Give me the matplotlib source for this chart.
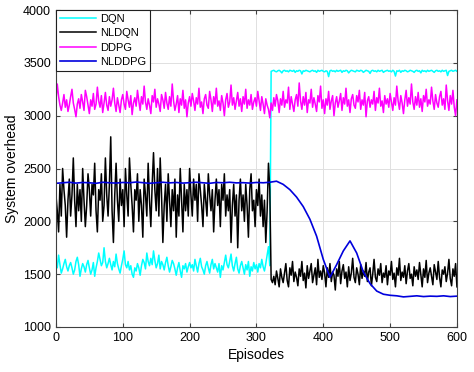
import numpy as np
import matplotlib
matplotlib.use("Agg")
import matplotlib.pyplot as plt

plt.rcParams['font.family'] = ['Liberation Sans', 'DejaVu Sans']

# episodes: noisy series every 2 episodes, smooth NLDDPG every 10
ep2 = list(range(0, 601, 2))
ep10 = list(range(0, 601, 10))

dqn = [
    1620, 1560, 1680, 1590, 1510, 1550, 1600, 1640, 1570, 1530,
    1580, 1610, 1560, 1500, 1540, 1620, 1660, 1590, 1480, 1550,
    1600, 1570, 1520, 1590, 1630, 1560, 1500, 1540, 1610, 1480,
    1560, 1620, 1700, 1640, 1580, 1610, 1750, 1620, 1560, 1600,
    1650, 1590, 1540, 1620, 1570, 1690, 1600, 1550, 1510, 1580,
    1640, 1720, 1590, 1560, 1620, 1540, 1580, 1500, 1470, 1560,
    1530, 1600, 1560, 1490, 1580, 1640, 1610, 1550, 1700, 1620,
    1580, 1650, 1590, 1720, 1630, 1560, 1600, 1680, 1550, 1620,
    1590, 1540, 1610, 1660, 1580, 1520, 1570, 1630, 1600, 1550,
    1490, 1560, 1610, 1530, 1470, 1580, 1550, 1600, 1520, 1570,
    1610, 1560, 1590, 1530, 1640, 1580, 1520, 1600, 1650, 1570,
    1540, 1500, 1580, 1620, 1560, 1510, 1590, 1640, 1550, 1600,
    1560, 1520, 1600, 1470, 1580, 1540, 1610, 1680, 1590, 1560,
    1620, 1690, 1580, 1530, 1600, 1660, 1550, 1510, 1580, 1620,
    1560, 1500, 1590, 1540, 1620, 1480, 1570, 1530, 1610, 1550,
    1590, 1520, 1600, 1560, 1640, 1570, 1530, 1600, 1680, 1760,
    1580,
    3420, 3425, 3430, 3420, 3415, 3425, 3430, 3420, 3405, 3425,
    3430, 3420, 3425, 3415, 3430, 3425, 3420, 3430, 3410, 3425,
    3420, 3430, 3425, 3395, 3425, 3420, 3430, 3425, 3420, 3415,
    3425, 3430, 3420, 3425, 3410, 3430, 3420, 3425, 3430, 3420,
    3415, 3425, 3420, 3370, 3425, 3430, 3420, 3425, 3415, 3430,
    3420, 3425, 3430, 3410, 3425, 3420, 3430, 3425, 3405, 3420,
    3430, 3425, 3420, 3415, 3430, 3425, 3420, 3430, 3425, 3410,
    3420, 3430, 3425, 3420, 3400, 3425, 3430, 3420, 3425, 3415,
    3430, 3420, 3425, 3430, 3410, 3420, 3425, 3430, 3420, 3425,
    3415, 3430, 3420, 3375, 3425, 3420, 3430, 3410, 3425, 3420,
    3430, 3425, 3415, 3420, 3430, 3425, 3420, 3410, 3425, 3430,
    3420, 3425, 3405, 3430, 3420, 3425, 3415, 3430, 3420, 3425,
    3430, 3420, 3410, 3425, 3430, 3420, 3425, 3415, 3430, 3420,
    3425, 3430, 3380, 3420, 3425, 3430, 3420, 3425, 3430, 3420,
]

nldqn = [
    2250, 2100, 1900, 2350, 2050, 2500, 2300, 2150, 1850, 2200,
    2400, 2050, 2250, 2600, 2200, 1950, 2350, 2100, 2300, 2000,
    2500, 2200, 1950, 2150, 2450, 2300, 2050, 2350, 2250, 2550,
    2100, 1900, 2300, 2200, 2450, 2000, 2150, 2600, 2250, 2050,
    2350, 2800, 2100, 1800, 2250, 2550, 2200, 2000, 2400, 2150,
    2300, 1950, 2500, 2250, 2050, 2600, 2350, 2150, 1900, 2300,
    2200, 2450, 2000, 2300, 2150, 1850, 2400, 2250, 2050, 2550,
    2200, 1950, 2350, 2650, 2300, 2100, 2500, 2050, 2600, 2250,
    1800, 2150, 2350, 2000, 2450, 2200, 1950, 2300, 2100, 2400,
    1850, 2250, 2050, 2500, 2200, 1900, 2350, 2100, 2300, 2050,
    2500, 2250, 2050, 2400, 2200, 2350, 2000, 2450, 2300, 2150,
    1950, 2350, 2200, 2050, 2450, 2250, 2100, 2300, 1900, 2200,
    2400, 2150, 2300, 1950, 2350, 2200, 2450, 2050, 2250, 2100,
    2300, 1800, 2150, 2350, 2050, 2250, 1750, 2200, 2400, 2100,
    2250, 2000, 2350, 2150, 1850, 2300, 2450, 2100, 2200, 1950,
    2300, 2150, 2400, 2050, 2250, 1950, 2200, 1800, 2100, 2550,
    2300,
    1450, 1420, 1480, 1400, 1530, 1460, 1380, 1550, 1470, 1420,
    1510, 1600, 1440, 1380, 1560, 1490, 1620, 1430, 1520, 1470,
    1390, 1550, 1480, 1620, 1440, 1510, 1370, 1580, 1460, 1530,
    1600, 1420, 1490, 1560, 1400, 1640, 1470, 1530, 1450, 1580,
    1510, 1380, 1560, 1470, 1600, 1430, 1520, 1490, 1350, 1550,
    1480, 1620, 1410, 1530, 1590, 1460, 1520, 1380, 1570, 1440,
    1510, 1650, 1470, 1420, 1560, 1500, 1400, 1590, 1460, 1530,
    1480, 1610, 1430, 1520, 1560, 1390, 1500, 1640, 1470, 1430,
    1550, 1490, 1600, 1420, 1510, 1470, 1580, 1400, 1530, 1490,
    1620, 1450, 1510, 1380, 1560, 1490, 1650, 1440, 1520, 1470,
    1580, 1410, 1530, 1600, 1460, 1500, 1390, 1570, 1480, 1540,
    1450, 1610, 1490, 1380, 1550, 1470, 1630, 1420, 1510, 1560,
    1480, 1400, 1590, 1520, 1450, 1620, 1470, 1380, 1540, 1500,
    1570, 1430, 1510, 1640, 1460, 1390, 1550, 1480, 1600, 1380,
]

ddpg = [
    3150, 3300, 3180, 3100, 3050, 3120, 3200, 3080, 3150, 3040,
    3100, 3180, 3250, 3120, 3060, 2990, 3110, 3160, 3070, 3200,
    3130, 3050, 3240, 3180, 3100, 3020, 3150, 3090, 3210, 3060,
    3110, 3270, 3140, 3080, 3190, 3030, 3120, 3220, 3100, 3050,
    3180, 3090, 3150, 3260, 3120, 3040, 3170, 3100, 3030, 3150,
    3200, 3110, 3060, 3230, 3150, 3080, 3190, 3010, 3120, 3170,
    3090, 3240, 3140, 3050, 3180, 3110, 3280, 3130, 3060, 3160,
    3100, 3020, 3190, 3130, 3250, 3080, 3160, 3110, 3040, 3200,
    3150, 3070, 3220, 3120, 3060, 3180, 3090, 3300, 3140, 3050,
    3110, 3190, 3030, 3160, 3100, 3240, 3070, 3150, 2990, 3120,
    3180, 3090, 3210, 3140, 3050, 3170, 3110, 3260, 3080, 3130,
    3020, 3160, 3200, 3100, 3070, 3230, 3150, 3040, 3180, 3110,
    3260, 3090, 3140, 3050, 3190, 3120, 3000, 3150, 3210, 3080,
    3130, 3290, 3100, 3170, 3060, 3140, 3220, 3090, 3160, 3040,
    3180, 3110, 3250, 3070, 3150, 3100, 3200, 3060, 3130, 3170,
    3090, 3230, 3140, 3050, 3180, 3110, 3020, 3160, 3100, 3060,
    2980, 3120, 3050, 3170, 3090, 3200, 3140, 3030, 3160, 3100,
    3230, 3080, 3150, 3120, 3270, 3060, 3180, 3110, 3040, 3150,
    3200, 3090, 3310, 3140, 3060, 3180, 3100, 3220, 3030, 3150,
    3120, 3250, 3080, 3170, 3110, 3040, 3190, 3130, 3280, 3070,
    3150, 3020, 3160, 3100, 3230, 3060, 3140, 3190, 3000, 3120,
    3180, 3080, 3140, 3210, 3050, 3170, 3110, 3260, 3090, 3150,
    3030, 3160, 3200, 3100, 3070, 3190, 3130, 3240, 3060, 3150,
    3100, 3220, 2990, 3140, 3180, 3080, 3150, 3110, 3230, 3050,
    3170, 3120, 3260, 3090, 3140, 3030, 3190, 3110, 3160, 3080,
    3210, 3130, 3050, 3170, 3100, 3280, 3140, 3060, 3190, 3120,
    3020, 3150, 3240, 3090, 3170, 3110, 3300, 3130, 3060, 3180,
    3100, 3220, 3080, 3160, 3040, 3190, 3130, 3250, 3090, 3150,
    3110, 3270, 3140, 3060, 3200, 3120, 3080, 3180, 3230, 3100,
    3160, 3060, 3290, 3140, 3050, 3190, 3110, 3240, 3080, 3000,
    3150,
]

nlddpg = [
    2360, 2365, 2370, 2362, 2368, 2365, 2360, 2370, 2365, 2362,
    2368, 2365, 2372, 2366, 2360, 2365, 2370, 2364, 2368, 2362,
    2366, 2370, 2365, 2360, 2368, 2365, 2370, 2364, 2366, 2362,
    2368, 2365, 2370,
    2380, 2350, 2300, 2230, 2140, 2020, 1860, 1640, 1470, 1590,
    1720, 1815, 1700, 1520, 1410, 1340, 1310, 1300, 1295, 1285,
    1290, 1295, 1288, 1292, 1290, 1295, 1288, 1292,
]

fig = plt.figure(figsize=(4.74, 3.72), dpi=100)
ax = fig.add_axes([0.118, 0.121, 0.846, 0.852])

ax.plot(ep2, dqn, color='cyan', lw=1.1, label='DQN')
ax.plot(ep2, nldqn, color='black', lw=1.1, label='NLDQN')
ax.plot(ep2, ddpg, color='magenta', lw=1.1, label='DDPG')
ax.plot(ep10, nlddpg, color='#0000dd', lw=1.2, label='NLDDPG')

ax.set_xlim(0, 600)
ax.set_ylim(1000, 4000)
ax.set_xticks(range(0, 601, 100))
ax.set_yticks(range(1000, 4001, 500))
ax.grid(True, color='#e0e0e0', lw=0.7)
ax.set_axisbelow(True)
ax.tick_params(direction='in', top=True, right=True, labelsize=9,
               color='#404040', length=3)
for s in ax.spines.values():
    s.set_color('#404040')
    s.set_linewidth(0.8)

ax.set_xlabel('Episodes', fontsize=10, labelpad=3)
ax.set_ylabel('System overhead', fontsize=10, labelpad=3)

leg = ax.legend(loc='upper left', fontsize=8, handlelength=3.3,
                labelspacing=0.4, borderpad=0.35, borderaxespad=0.0,
                fancybox=False, framealpha=1, handletextpad=0.3)
leg.get_frame().set_edgecolor('#202020')
leg.get_frame().set_linewidth(0.8)

fig.savefig('out.png', dpi=100)
